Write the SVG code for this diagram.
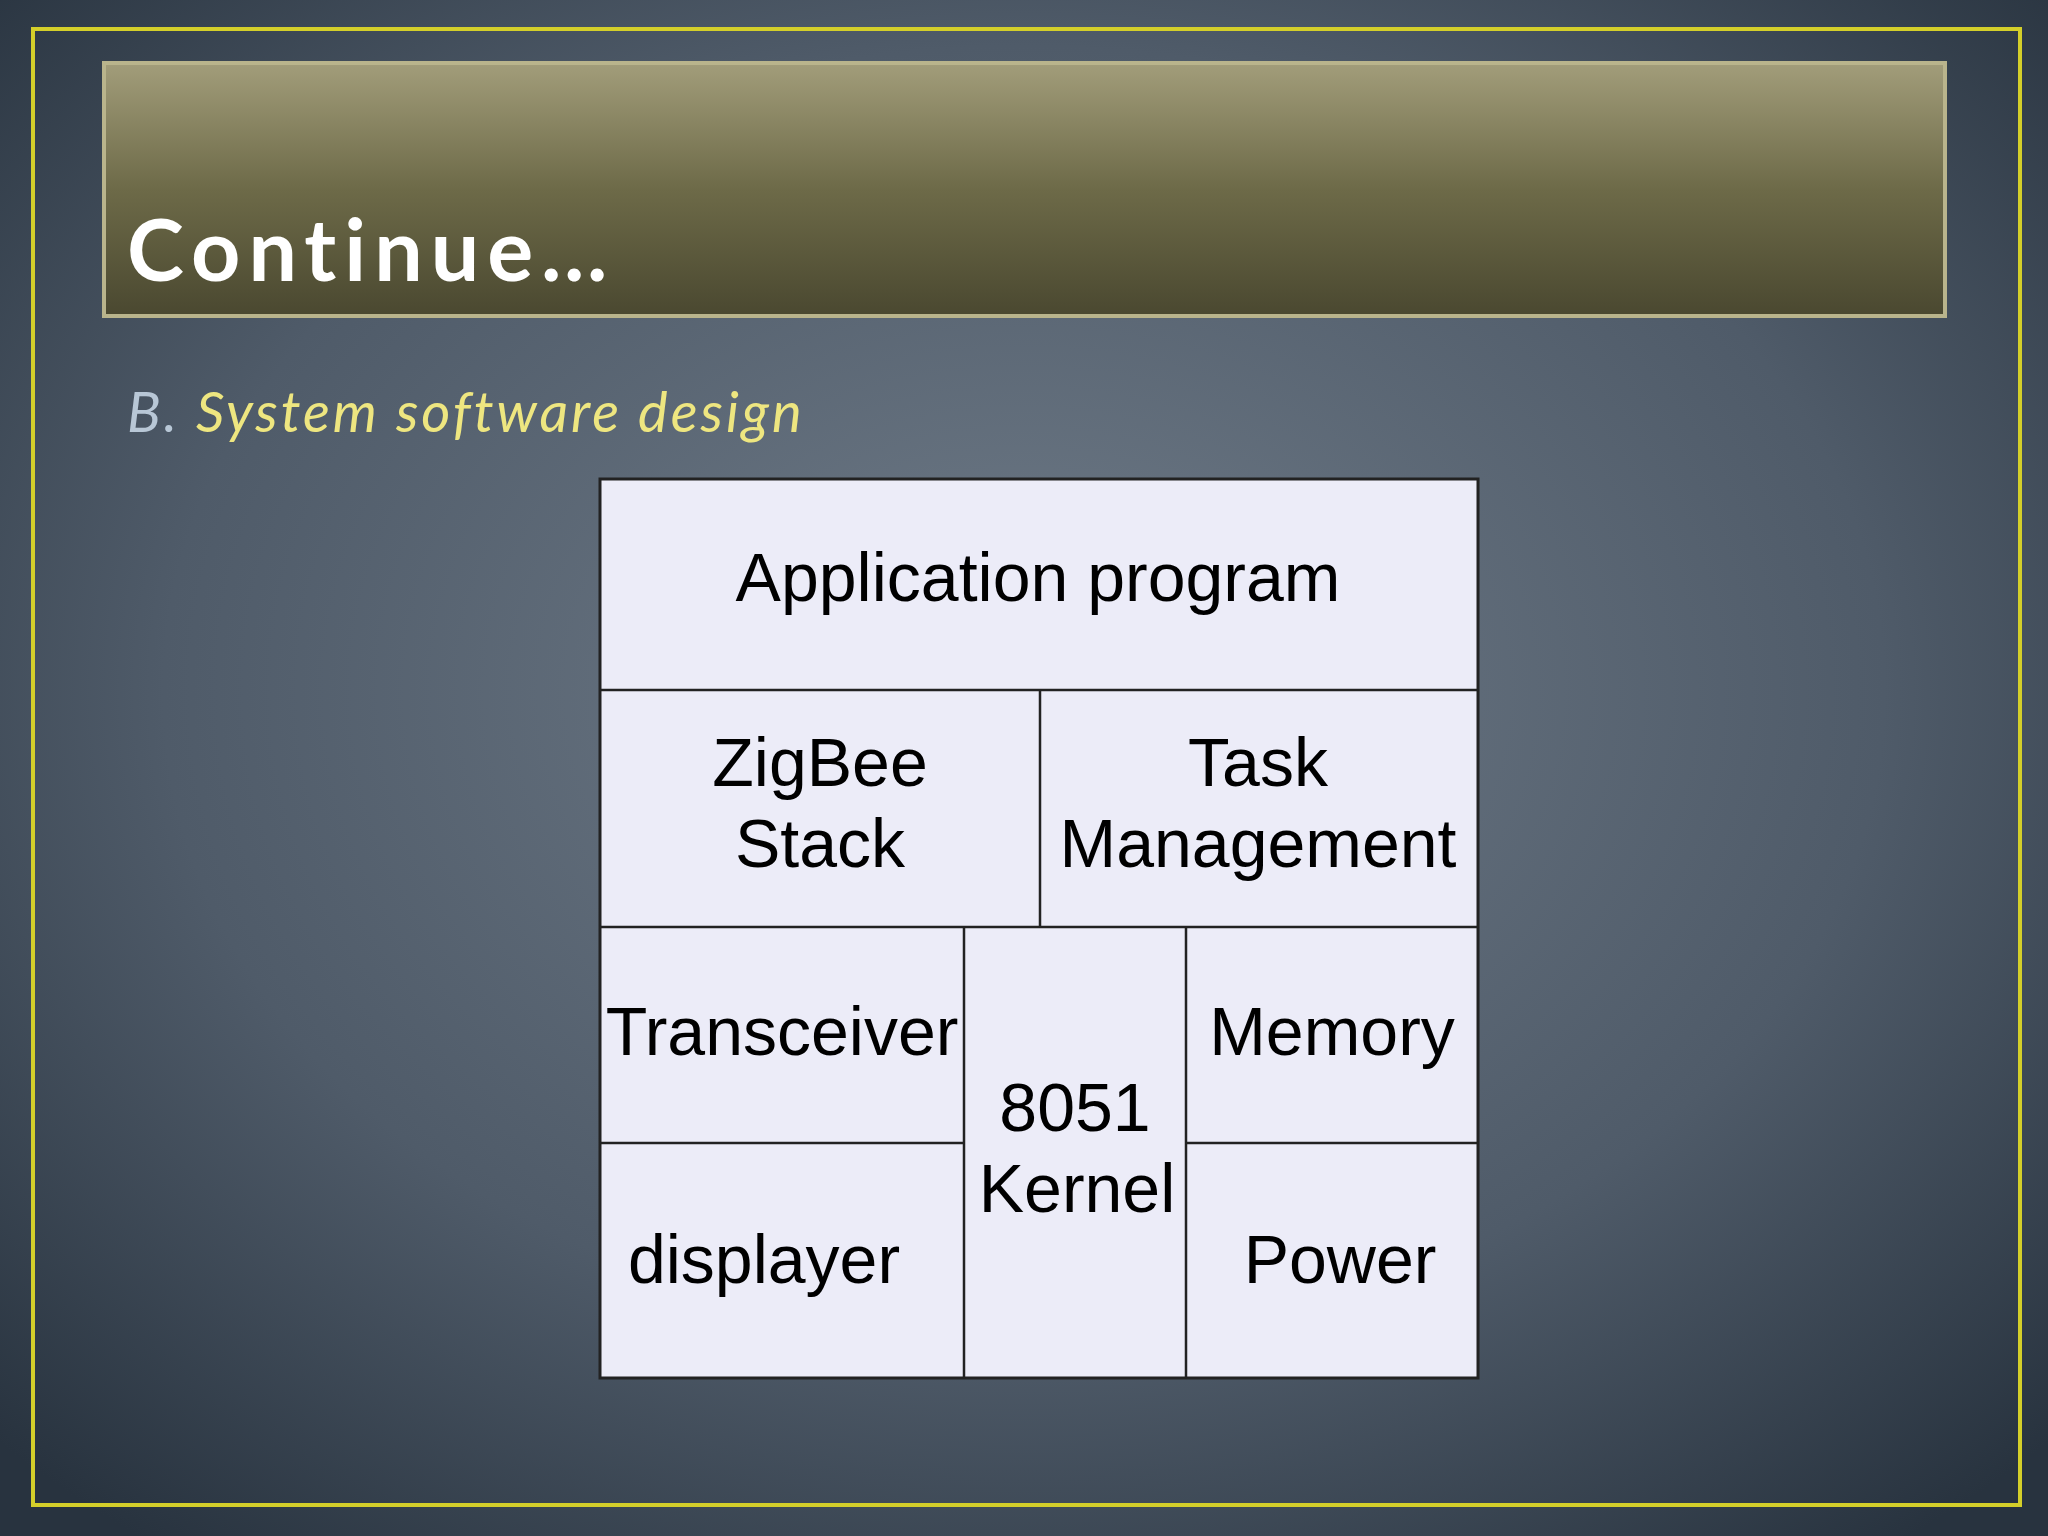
<svg xmlns="http://www.w3.org/2000/svg" width="2048" height="1536" viewBox="0 0 2048 1536">
<defs>
<radialGradient id="bg" cx="0.5" cy="0.45" r="0.7">
<stop offset="0" stop-color="#6f7b88"/><stop offset="0.6" stop-color="#4f5b69"/><stop offset="1" stop-color="#28333f"/>
</radialGradient>
<linearGradient id="tb" x1="0" y1="0" x2="0" y2="1">
<stop offset="0" stop-color="#a29d7a"/><stop offset="0.5" stop-color="#6d6a48"/><stop offset="1" stop-color="#4a4830"/>
</linearGradient>
<style>
.c{font-family:Arial,"Liberation Sans",sans-serif;font-size:68px;fill:#000;text-anchor:middle}
.l{stroke:#222;stroke-width:2.5;fill:none}
</style>
</defs>
<rect width="2048" height="1536" fill="url(#bg)"/>
<rect x="33" y="29" width="1987" height="1476" fill="none" stroke="#d4cf2a" stroke-width="4"/>
<rect x="104" y="63" width="1841" height="253" fill="url(#tb)" stroke="#b9b48c" stroke-width="4"/>
<text x="127" y="281" font-family="Lato,'Open Sans',sans-serif" font-size="86" font-weight="bold" fill="#fff" letter-spacing="8">Continue…</text>
<text x="127" y="432" font-family="Lato,'Open Sans',sans-serif" font-size="56" font-style="italic" letter-spacing="3"><tspan fill="#b8c7d6">B. </tspan><tspan fill="#eee680">System software design</tspan></text>
<g id="table">
<rect x="600" y="479" width="878" height="899" fill="#ececf8" stroke="#222" stroke-width="3"/>
<path class="l" d="M600 690H1478M600 927H1478M1040 690V927M964 927V1378M1186 927V1378M600 1143H964M1186 1143H1478"/>
</g>
<g id="app"><text class="c" x="1038" y="601">Application program</text></g>
<g id="zigbee"><text class="c" x="820" y="786">ZigBee</text><text class="c" x="820" y="867">Stack</text></g>
<g id="task"><text class="c" x="1258" y="786">Task</text><text class="c" x="1258" y="867">Management</text></g>
<g id="trans"><text class="c" x="782" y="1055">Transceiver</text></g>
<g id="kernel"><text class="c" x="1075" y="1131">8051</text><text class="c" x="1077" y="1212">Kernel</text></g>
<g id="memory"><text class="c" x="1332" y="1055">Memory</text></g>
<g id="disp"><text class="c" x="764" y="1283">displayer</text></g>
<g id="power"><text class="c" x="1340" y="1283">Power</text></g>
<g id="connectors"/>
</svg>
